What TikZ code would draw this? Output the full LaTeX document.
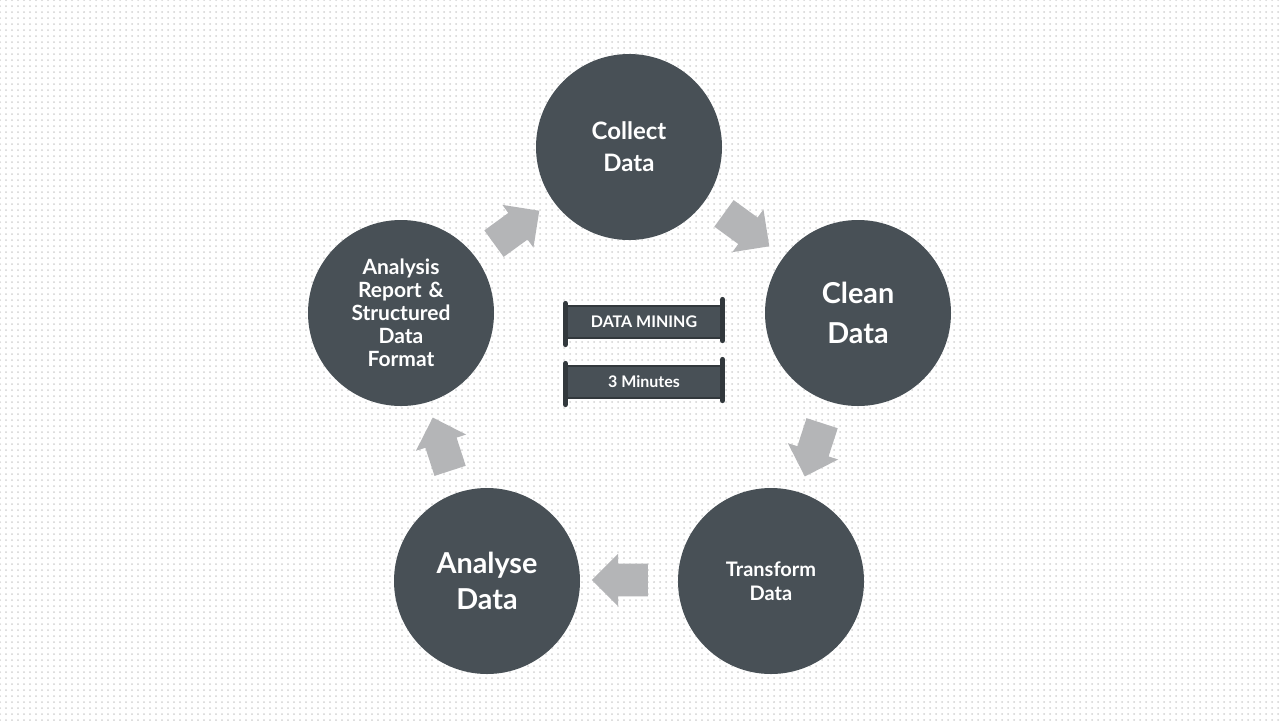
\documentclass[tikz,border=0pt]{standalone}
\usepackage{fontspec}
\setmainfont{Lato}
\usetikzlibrary{shapes.arrows,patterns}
\definecolor{slate}{HTML}{485056}
\definecolor{arr}{HTML}{B4B5B7}
\begin{document}
\begin{tikzpicture}[x=0.5pt,y=-0.5pt,
  stage/.style={circle,fill=slate,minimum size=93pt,text=white,font=\bfseries,align=center,inner sep=0pt},
  blk/.style={single arrow,fill=arr,minimum height=28pt,inner sep=8pt,single arrow head extend=5pt,single arrow tip angle=90},
  banner/.style={fill=slate,draw=slate!70!black,line width=0.6pt,minimum width=78pt,minimum height=16pt,text=white,font=\bfseries\footnotesize,inner sep=0pt}]
\useasboundingbox (0,0) rectangle (1280,720);
\fill[white] (0,0) rectangle (1280,720);
\fill[pattern=dots,pattern color=gray!35] (0,0) rectangle (1280,720);
\node[stage,font=\bfseries\large] (collect) at (629,147) {Collect\\[2pt]Data};
\node[stage,font=\bfseries\Large] (clean) at (858,313) {Clean\\[2pt]Data};
\node[stage] (transform) at (771,581) {Transform\\Data};
\node[stage,font=\bfseries\Large] (analyse) at (487,581) {Analyse\\Data};
\node[stage,font=\bfseries\fontsize{10.5pt}{11.5pt}\selectfont,text width=70pt] (report) at (401,313) {Analysis\\Report \&\\Structured\\Data\\Format};
\node[blk,rotate=36] (a1) at (510,232) {};
\node[blk,rotate=-36] (a2) at (740,225) {};
\node[blk,rotate=-108] (a3) at (816,442) {};
\node[blk,rotate=180] (a4) at (628,580) {};
\node[blk,rotate=108] (a5) at (444,452) {};
\node[banner] (dm) at (644,322) {DATA MINING};
\node[banner] (min) at (644,382) {3 Minutes};
\foreach \b in {dm,min}{
  \draw[slate!70!black,line width=2.5pt,line cap=round] ([yshift=1pt]\b.north west) -- ([yshift=-3pt]\b.south west);
  \draw[slate!70!black,line width=2.5pt,line cap=round] ([yshift=3pt]\b.north east) -- ([yshift=-1pt]\b.south east);
}
\end{tikzpicture}
\end{document}
